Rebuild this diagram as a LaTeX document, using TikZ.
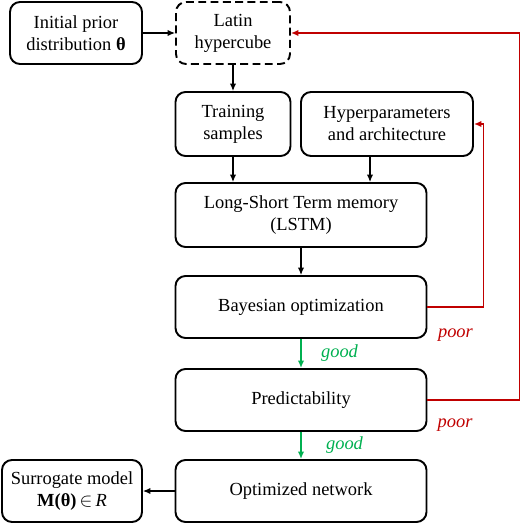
\documentclass[tikz,border=0pt]{standalone}
\usepackage{fontspec}
\setmainfont{Liberation Serif}
\usetikzlibrary{arrows.meta}
\definecolor{poorred}{RGB}{192,0,0}
\definecolor{goodgreen}{RGB}{0,176,80}
\tikzset{%
  >={Latex[width=1.3mm,length=1.5mm]},
  % Specifications for style of nodes:
            base/.style = {rectangle, rounded corners=0.2cm, draw=black, line width=1.1pt,
                           minimum height=1.24cm, text centered, align=center,
                           font=\fontsize{10.5}{12.5}\selectfont},
  box0/.style = {base, minimum width=5.02cm},
  box1/.style = {base, minimum width=2.3cm, minimum height=1.28cm},
  dashbox/.style = {base, minimum width=2.28cm, dash pattern=on 4.5pt off 2.5pt},
  lbl/.style = {font=\fontsize{10.5}{12.5}\selectfont\itshape, inner sep=1pt},
}
\begin{document}
\begin{tikzpicture}[node distance=1.82cm]
  \useasboundingbox (0,0) rectangle (10.4,-10.48);

  % Specification of nodes (position, etc.)
  \node (onLatin)    [dashbox] at (4.66,-0.66)                        {Latin\\hypercube};
  \node (onPrior)    [base, minimum width=2.64cm, left of=onLatin, xshift=-1.32cm] {Initial prior\\distribution \textbf{θ}};
  \node (onTraining) [box1, below of=onLatin]                         {Training\\samples};
  \node (onHyper)    [box1, minimum width=3.44cm, right of=onTraining, xshift=1.26cm] {Hyperparameters\\and architecture};
  \node (onLstm)     [box0, minimum height=1.28cm, below of=onTraining, xshift=1.36cm] {Long-Short Term memory\\(LSTM)};
  \node (onBayes)    [box0, below of=onLstm, yshift=-0.02cm]          {Bayesian optimization};
  \node (onPred)     [box0, below of=onBayes, yshift=-0.04cm]         {Predictability};
  \node (onOpt)      [box0, below of=onPred]                          {Optimized network};
  \node (onSurr)     [base, minimum width=2.8cm, left of=onOpt, xshift=-2.76cm] {Surrogate model\\\textbf{M(θ)}\,$\in$\,\textit{R}};

  % Specification of lines between nodes specified above
  \draw[->, line width=0.7pt]  (onPrior) -- (onLatin);
  \draw[->, line width=0.7pt]  (onLatin) -- (onTraining);
  \draw[->, line width=0.7pt]  (onTraining.south) -- (onTraining.south |- onLstm.north);
  \draw[->, line width=0.7pt]  (onHyper.south -| 7.4,0) -- (7.4,0 |- onLstm.north);
  \draw[->, line width=0.7pt]  (onLstm) -- (onBayes);
  \draw[->, line width=0.7pt]  (onOpt) -- (onSurr);

  % with aditional nodes for the decisions
  \draw[->, goodgreen, line width=0.9pt] (onBayes) -- node [lbl, right, xshift=0.35cm] {good} (onPred);
  \draw[->, goodgreen, line width=0.9pt] (onPred) -- node [lbl, right, xshift=0.45cm] {good} (onOpt);
  \draw[->, poorred, line width=0.9pt] (onBayes.east) -- node [lbl, below, yshift=-0.38cm] {poor} ++(1.12,0) |- (onHyper.east);
  \draw[->, poorred, line width=0.9pt] (onPred.east) -- node [lbl, below, pos=0.3, yshift=-0.32cm] {poor} ++(1.84,0) |- (onLatin.east);
\end{tikzpicture}
\end{document}
